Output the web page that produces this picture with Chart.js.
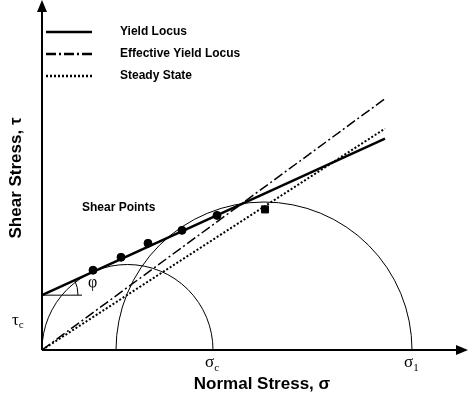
<!DOCTYPE html>
<html><head><meta charset="utf-8">
<script src="https://cdn.jsdelivr.net/npm/chart.js@4/dist/chart.umd.min.js"></script>
<style>html,body{margin:0;padding:0;background:#fff}#w{width:474px;height:407px}</style>
</head><body><div id="w"><canvas id="c"></canvas></div>
<script>
const yieldLocus=[{x:0,y:55},{x:343,y:212}];
const effectiveLocus=[{x:0,y:0},{x:343,y:252}];
const steadyState=[{x:0,y:0},{x:343,y:222}];
const shearPoints=[{x:51,y:80},{x:79,y:93},{x:106,y:107},{x:140,y:120},{x:175,y:135}];
const steadyPoint=[{x:223,y:141}];
const circles=[{cx:85.5,r:85.5},{cx:222,r:148}];
const legendLabels=["Yield Locus","Effective Yield Locus","Steady State"];
const tickLabels=[{t:"τ",s:"c",axis:"y",v:55},{t:"σ",s:"c",axis:"x",v:171},{t:"σ",s:"1",axis:"x",v:370}];

const deco={id:'deco',beforeDatasetsDraw(ch){
 const c=ch.ctx,X=ch.scales.x,Y=ch.scales.y;
 c.save();c.strokeStyle='#000';c.lineWidth=1;
 circles.forEach(k=>{c.beginPath();const px=X.getPixelForValue(k.cx),py=Y.getPixelForValue(0);
  const r=X.getPixelForValue(k.cx+k.r)-px;c.arc(px,py,r,Math.PI,2*Math.PI);c.stroke();});
 // phi construct
 const y0=Y.getPixelForValue(55),x0=X.getPixelForValue(0);
 c.beginPath();c.moveTo(x0,y0);c.lineTo(x0+40,y0);c.stroke();
 c.beginPath();c.arc(x0,y0,36,-Math.atan(157/343),0);c.stroke();
 c.restore();
},afterDraw(ch){
 const c=ch.ctx,X=ch.scales.x,Y=ch.scales.y,o={x:X.getPixelForValue(0),y:Y.getPixelForValue(0)};
 c.save();c.fillStyle='#000';c.strokeStyle='#000';c.lineWidth=2;
 c.beginPath();c.moveTo(o.x,o.y);c.lineTo(462,o.y);c.moveTo(o.x,o.y);c.lineTo(o.x,4);c.stroke();
 c.beginPath();c.moveTo(468,o.y);c.lineTo(456,o.y-5);c.lineTo(456,o.y+5);c.fill();
 c.beginPath();c.moveTo(o.x,0);c.lineTo(o.x-5,12);c.lineTo(o.x+5,12);c.fill();
 // legend
 const dashes=[[],[10,3,2,3],[2,2]];
 c.font='bold 12px Arial, "Liberation Sans"';c.textBaseline='middle';
 legendLabels.forEach((l,i)=>{const y=32+i*22;c.setLineDash(dashes[i]);c.lineWidth=2.5;
  c.beginPath();c.moveTo(46,y);c.lineTo(92,y);c.stroke();c.setLineDash([]);c.fillText(l,120,y);});
 c.fillText("Shear Points",82,208);
 c.font='16px "Times New Roman","Liberation Serif"';c.fillText("φ",88,283);
 // tick labels
 tickLabels.forEach(t=>{let px,py;
  if(t.axis==='y'){px=12;py=Y.getPixelForValue(t.v)+25;}else{px=X.getPixelForValue(t.v)-8;py=o.y+13;}
  c.font='17px "Times New Roman","Liberation Serif"';c.fillText(t.t,px,py);
  const w=c.measureText(t.t).width;c.font='11px "Times New Roman","Liberation Serif"';c.fillText(t.s,px+w,py+5);});
 c.font='bold 17px Arial, "Liberation Sans"';c.textAlign='center';
 c.fillText("Normal Stress, σ",262,384);
 c.translate(16,178);c.rotate(-Math.PI/2);c.fillText("Shear Stress, τ",0,0);
 c.restore();
}};

new Chart(document.getElementById('c'),{type:'scatter',
 data:{datasets:[
  {data:yieldLocus,showLine:true,borderColor:'#000',borderWidth:2.5,pointRadius:0},
  {data:effectiveLocus,showLine:true,borderColor:'#000',borderWidth:1.5,borderDash:[10,3,2,3],pointRadius:0},
  {data:steadyState,showLine:true,borderColor:'#000',borderWidth:2,borderDash:[2,2],pointRadius:0},
  {data:shearPoints,pointRadius:4,backgroundColor:'#000',borderColor:'#000'},
  {data:steadyPoint,pointStyle:'rect',pointRadius:5,backgroundColor:'#000',borderColor:'#000'}]},
 options:{responsive:true,maintainAspectRatio:false,animation:false,
  layout:{padding:{left:42,right:19,top:5,bottom:57}},
  plugins:{legend:{display:false},tooltip:{enabled:false}},
  scales:{x:{type:'linear',min:0,max:413,display:false},y:{type:'linear',min:0,max:345,display:false}}},
 plugins:[deco]});
</script></body></html>
